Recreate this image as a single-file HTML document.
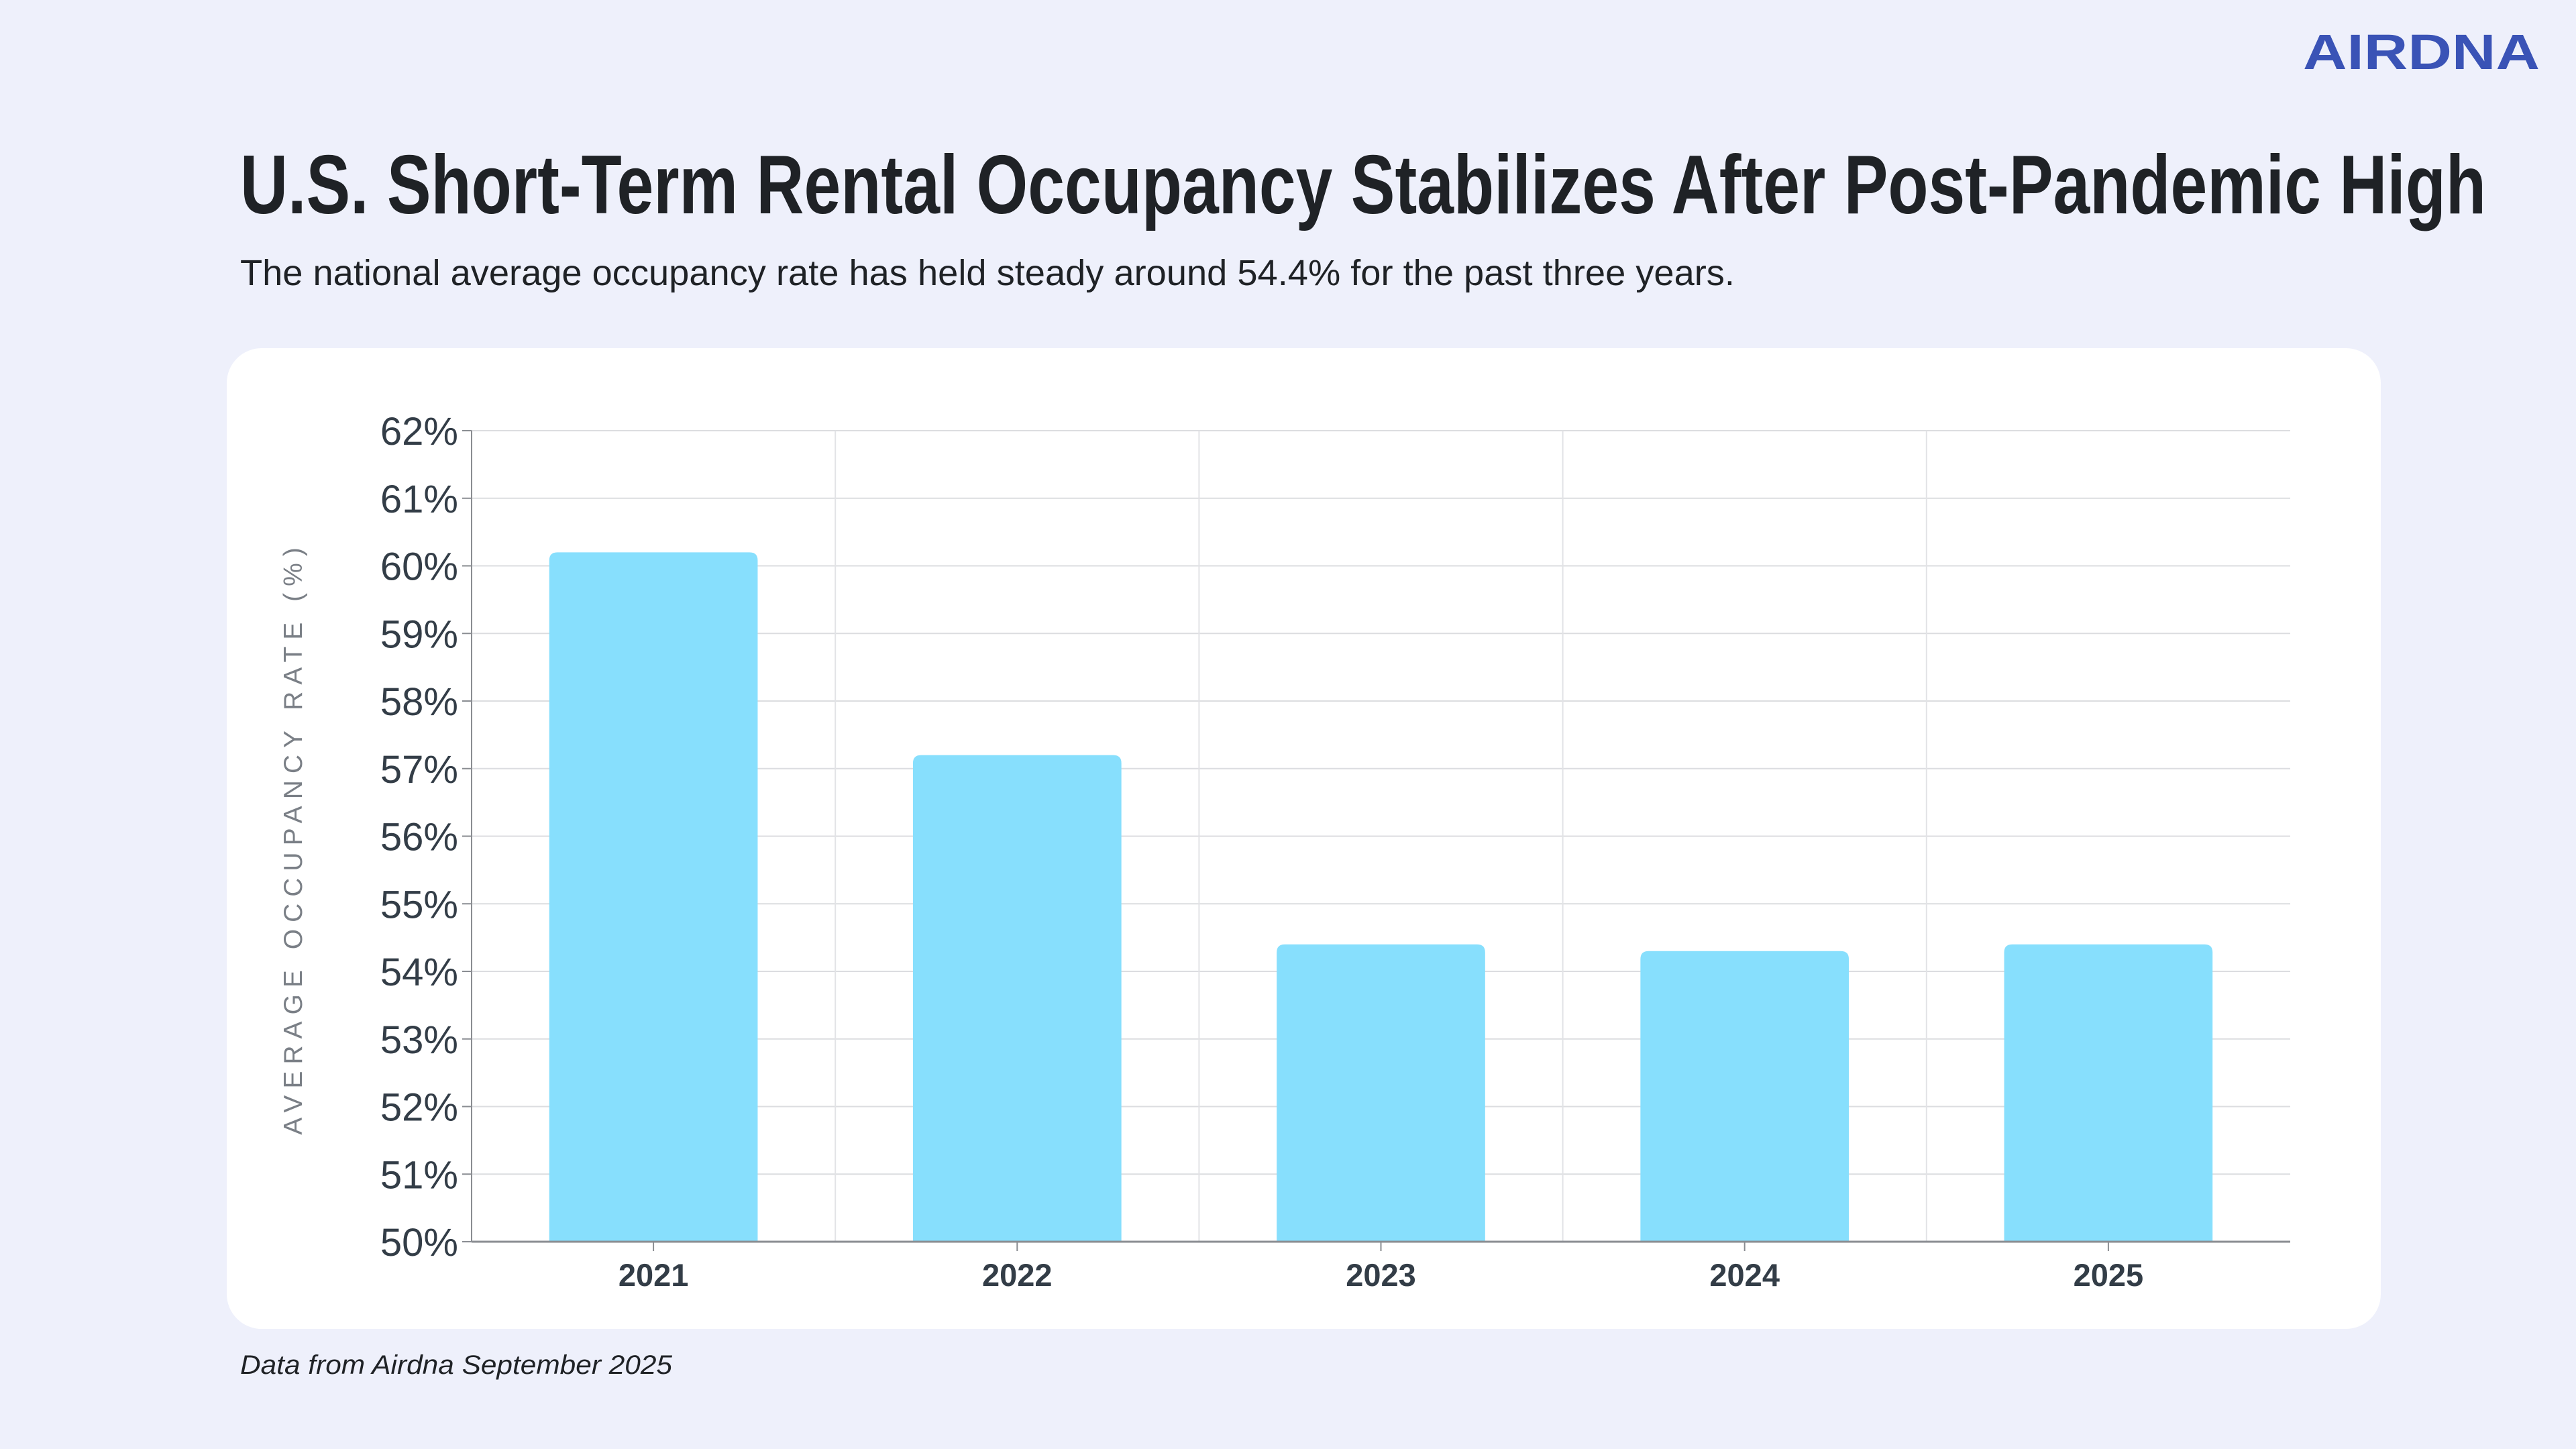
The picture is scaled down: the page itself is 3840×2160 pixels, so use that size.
<!DOCTYPE html>
<html><head><meta charset="utf-8"><style>
html,body{margin:0;padding:0;background:#eef0fb;}
body{width:3840px;height:2160px;overflow:hidden;}
svg{display:block;}
</style></head><body>
<svg id="root" width="3840" height="2160" viewBox="0 0 3840 2160" xmlns="http://www.w3.org/2000/svg">
<rect x="0" y="0" width="3840" height="2160" fill="#eef0fb"/>
<text x="3786" y="103" text-anchor="end" textLength="353" lengthAdjust="spacingAndGlyphs" font-family="Liberation Sans, sans-serif" font-weight="bold" font-size="74" fill="#3a53b6">AIRDNA</text>
<text x="358" y="318" textLength="3348" lengthAdjust="spacingAndGlyphs" font-family="Liberation Sans, sans-serif" font-weight="bold" font-size="124" fill="#1f2226">U.S. Short-Term Rental Occupancy Stabilizes After Post-Pandemic High</text>
<text x="358" y="425" textLength="2228" lengthAdjust="spacingAndGlyphs" font-family="Liberation Sans, sans-serif" font-size="54" fill="#1f2226">The national average occupancy rate has held steady around 54.4% for the past three years.</text>
<rect x="338" y="519" width="3211" height="1462" rx="52" fill="#ffffff"/>
<g id="plot"></g>
<text transform="translate(450,1249) rotate(-90)" text-anchor="middle" font-family="Liberation Sans, sans-serif" font-size="39" letter-spacing="10" fill="#7a7f86">AVERAGE OCCUPANCY RATE (%)</text>
<text x="358" y="2048" textLength="644" lengthAdjust="spacingAndGlyphs" font-family="Liberation Sans, sans-serif" font-style="italic" font-size="40" fill="#1f2226">Data from Airdna September 2025</text>
</svg>
<script>
const categories = ["2021","2022","2023","2024","2025"];
const occupancy = [60.2, 57.2, 54.4, 54.3, 54.4];
const yTicks = [50,51,52,53,54,55,56,57,58,59,60,61,62];
const yTickLabels = ["50%","51%","52%","53%","54%","55%","56%","57%","58%","59%","60%","61%","62%"];

const NS = "http://www.w3.org/2000/svg";
const L = 703, R = 3414, T = 642, B = 1851;
const yMin = 50, yMax = 62;
const y = v => B - (v - yMin) / (yMax - yMin) * (B - T);
const band = (R - L) / categories.length;
const x = i => L + band * i;
const barW = band * 0.573;
const g = document.getElementById('plot');
function mk(tag, attrs){const e=document.createElementNS(NS,tag);for(const k in attrs)e.setAttribute(k,attrs[k]);g.appendChild(e);return e;}

yTicks.forEach((t,i)=>{
  const gl = mk('line',{x1:L,x2:R,y1:y(t),y2:y(t),stroke:'#dcdde0','stroke-width':2});
  
  
  const tk = mk('line',{x1:L-14,x2:L,y1:y(t),y2:y(t),stroke:'#8a8d92','stroke-width':2});
  
  
  const lb = mk('text',{x:L-20,y:y(t)+21,'text-anchor':'end','font-family':'Liberation Sans, sans-serif','font-size':58,fill:'#333d47'});
  lb.textContent = yTickLabels[i];
  
  
});
for(let i=1;i<categories.length;i++){
  const vl = mk('line',{x1:x(i),x2:x(i),y1:T,y2:B,stroke:'#e2e3e6','stroke-width':2});
  
  
}
categories.forEach((c,i)=>{
  const cx = x(i) + band/2, top = y(occupancy[i]), w = barW, r = 12;
  const x0 = cx - w/2, x1 = cx + w/2;
  const p = mk('path',{d:`M${x0},${B} L${x0},${top+r} Q${x0},${top} ${x0+r},${top} L${x1-r},${top} Q${x1},${top} ${x1},${top+r} L${x1},${B} Z`,fill:'#87dffd'});
  
  
  const tk = mk('line',{x1:cx,x2:cx,y1:B,y2:B+14,stroke:'#8a8d92','stroke-width':2});
  
  
  const lb = mk('text',{x:cx,y:1917,'text-anchor':'middle','font-family':'Liberation Sans, sans-serif','font-weight':'bold','font-size':47,fill:'#333d47'});
  lb.textContent = c;
  
  
});
const ya = mk('line',{x1:L,x2:L,y1:T,y2:B,stroke:'#8a8d92','stroke-width':2});


const xa = mk('line',{x1:L,x2:R,y1:B,y2:B,stroke:'#8a8d92','stroke-width':3});


</script>
</body></html>
